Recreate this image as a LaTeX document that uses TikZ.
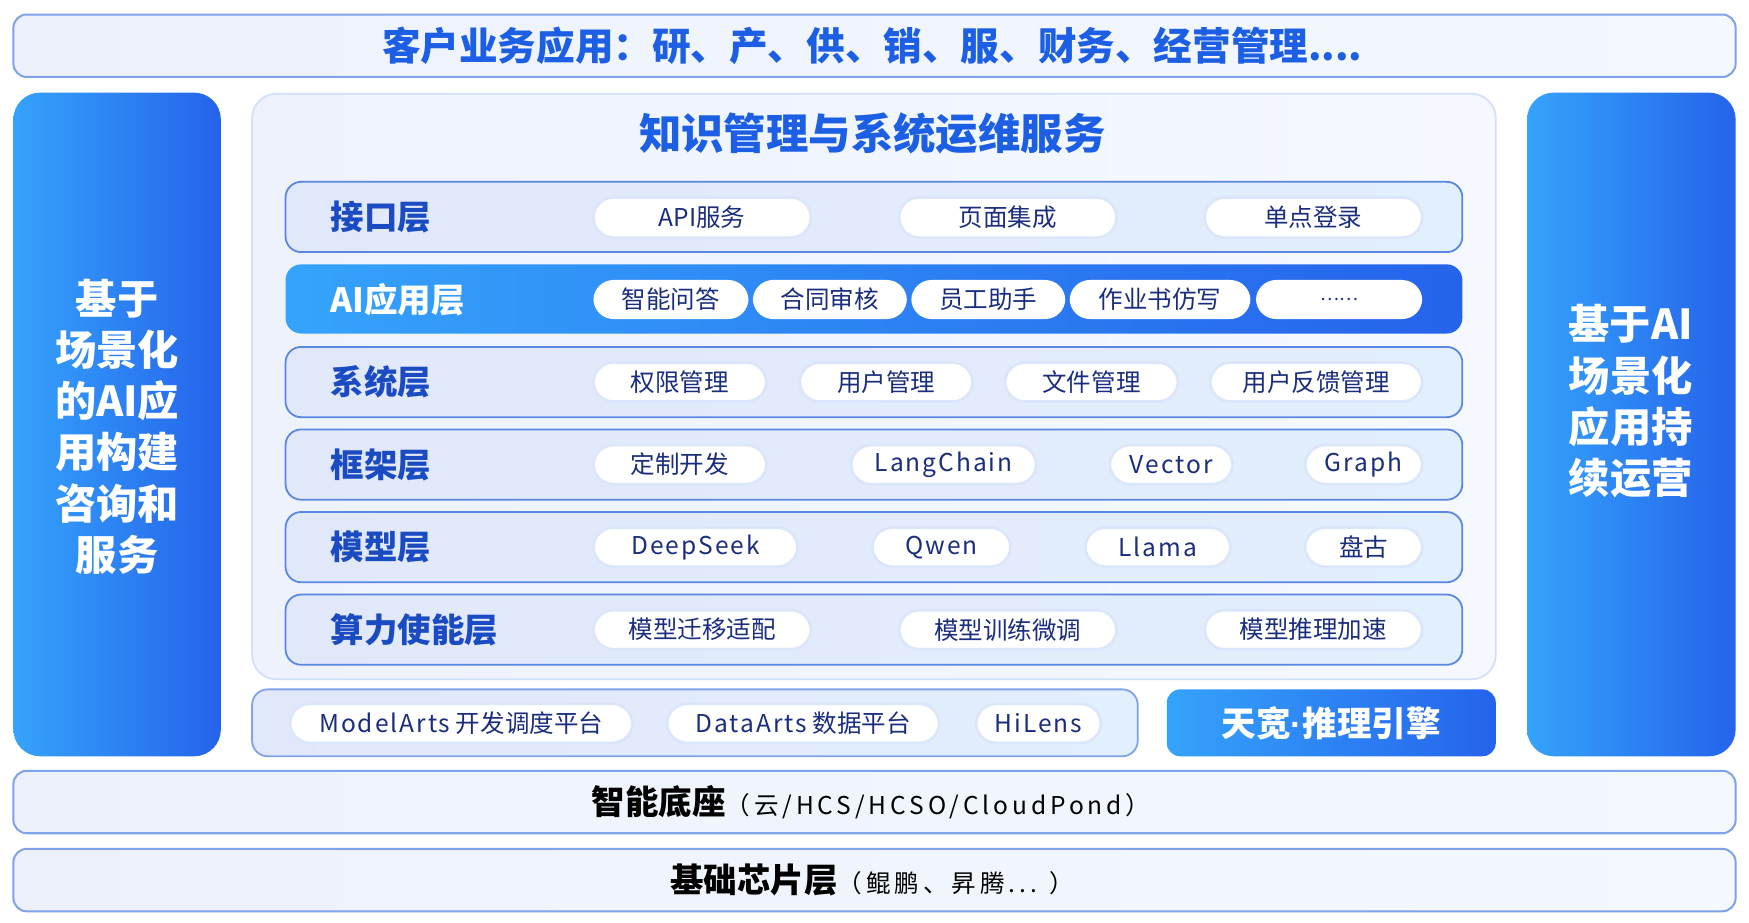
\documentclass[tikz,border=0pt]{standalone}
\usepackage{fontspec}
\setmainfont{Noto Sans CJK SC}
\newfontfamily\lsfont{Noto Sans CJK SC}[LetterSpace=8]
\newfontfamily\wsfont{Noto Sans CJK SC}[LetterSpace=16]
\newfontfamily\latf{Liberation Sans}
\definecolor{tblue}{HTML}{1D5FE4}
\definecolor{lblue}{HTML}{1A4BC2}
\definecolor{navy}{HTML}{1B2E7E}
\definecolor{pl}{HTML}{35A3FB}
\definecolor{pd}{HTML}{2563EB}
\definecolor{barL}{HTML}{EDF1FC}
\definecolor{barR}{HTML}{F4F9FF}
\definecolor{barB}{HTML}{7FA2EA}
\definecolor{rowL}{HTML}{E1E8FA}
\definecolor{rowR}{HTML}{E2EFFD}
\definecolor{rowB}{HTML}{5B86E2}
\definecolor{panF}{HTML}{EDF2FC}
\definecolor{panR}{HTML}{F5F9FF}
\definecolor{panB}{HTML}{D3E0F7}
\definecolor{glow}{HTML}{DCE6FA}
\newcommand\bx[7]{\node[#1,minimum width={(#4-#3)*0.5pt},minimum height={(#6-#5)*0.5pt}] (#2) at ({(#3+#4)/2},{(#5+#6)/2}) {#7};}
\tikzset{
  bar/.style={rounded corners=6pt,left color=barL,right color=barR,draw=barB,line width=0.9pt,inner sep=0pt},
  bluepanel/.style={rounded corners=12pt,left color=pl,right color=pd,inner sep=0pt,text=white,align=center,
    font=\bfseries\fontsize{18.5pt}{23pt}\selectfont},
  panel/.style={rounded corners=11pt,left color=panF,right color=panR,draw=panB,line width=0.8pt,inner sep=0pt},
  layerrow/.style={rounded corners=7pt,left color=rowL,right color=rowR,draw=rowB,line width=0.8pt,inner sep=0pt},
  airow/.style={rounded corners=7pt,left color=pl,right color=pd,inner sep=0pt},
  pill/.style={rounded corners=9pt,fill=white,draw=glow,line width=1.2pt,text=navy,inner sep=0pt,
    font=\fontsize{11pt}{13pt}\selectfont},
  lab/.style={anchor=west,inner sep=0pt,text=lblue,font=\bfseries\fontsize{15pt}{18pt}\selectfont},
  engine/.style={rounded corners=6pt,left color=pl,right color=pd,inner sep=0pt,text=white,
    font=\bfseries\fontsize{15.5pt}{18pt}\selectfont}
}
\begin{document}
\begin{tikzpicture}[x=0.5pt,y=-0.5pt]
\fill[white] (0,0) rectangle (1568,827);
\useasboundingbox (0,0) rectangle (1568,827);
% top bar
\bx{bar}{top}{12}{1556}{13}{69}{}
\node[text=tblue,font=\bfseries\fontsize{17.3pt}{20pt}\selectfont] (toptxt) at (782,41) {客户业务应用：研、产、供、销、服、财务、经营管理....};
% side panels
\bx{bluepanel}{leftp}{12}{198}{83}{678}{}
\node[text=white,align=center,font=\bfseries\fontsize{18.5pt}{23pt}\selectfont] (lefttxt) at (105,382.5) {基于\\场景化\\的AI应\\用构建\\咨询和\\服务};
\bx{bluepanel}{rightp}{1369}{1556}{83}{678}{}
\node[text=white,align=center,font=\bfseries\fontsize{18.5pt}{23pt}\selectfont] (righttxt) at (1462,360) {基于AI\\场景化\\应用持\\续运营};
% middle panel
\bx{panel}{mid}{226}{1341}{84}{609}{}
\node[text=tblue,font=\bfseries\fontsize{19pt}{22pt}\selectfont] (midtitle) at (782,120) {知识管理与系统运维服务};
% rows
\bx{layerrow}{r1}{256}{1311}{163}{226}{}
\bx{airow}{r2}{256}{1311}{237}{299}{}
\bx{layerrow}{r3}{256}{1311}{311}{374}{}
\bx{layerrow}{r4}{256}{1311}{385}{448}{}
\bx{layerrow}{r5}{256}{1311}{459}{522}{}
\bx{layerrow}{r6}{256}{1311}{533}{596}{}
\node[lab] (l1) at (296,194.5) {接口层};
\node[lab,text=white] (l2) at (296,269) {AI应用层};
\node[lab] (l3) at (296,342.5) {系统层};
\node[lab] (l4) at (296,416.5) {框架层};
\node[lab] (l5) at (296,490.5) {模型层};
\node[lab] (l6) at (296,564.5) {算力使能层};
% row 1
\bx{pill}{p11}{532}{727}{177}{213}{API服务}
\bx{pill}{p12}{806}{1001}{177}{213}{页面集成}
\bx{pill}{p13}{1080}{1275}{177}{213}{单点登录}
% row 2
\bx{pill,draw=none}{p21}{532}{671}{251}{286}{智能问答}
\bx{pill,draw=none}{p22}{675}{813}{251}{286}{合同审核}
\bx{pill,draw=none}{p23}{817}{955}{251}{286}{员工助手}
\bx{pill,draw=none}{p24}{959}{1121}{251}{286}{作业书仿写}
\bx{pill,draw=none}{p25}{1126}{1275}{251}{286}{\fontsize{8pt}{10pt}\selectfont ……}
% row 3
\bx{pill}{p31}{532}{687}{325}{360}{权限管理}
\bx{pill}{p32}{717}{872}{325}{360}{用户管理}
\bx{pill}{p33}{901}{1056}{325}{360}{文件管理}
\bx{pill}{p34}{1085}{1275}{325}{360}{用户反馈管理}
% row 4
\bx{pill}{p41}{532}{687}{399}{434}{定制开发}
\bx{pill}{p42}{763}{929}{399}{434}{\lsfont\raisebox{-0.5pt}{LangChain}}
\bx{pill}{p43}{995}{1105}{399}{434}{\lsfont\raisebox{-0.5pt}{Vector}}
\bx{pill}{p44}{1170}{1275}{399}{434}{\lsfont\raisebox{-0.5pt}{Graph}}
% row 5
\bx{pill}{p51}{532}{715}{473}{508}{\lsfont\raisebox{-0.5pt}{DeepSeek}}
\bx{pill}{p52}{782}{906}{473}{508}{\lsfont\raisebox{-0.5pt}{Qwen}}
\bx{pill}{p53}{973}{1103}{473}{508}{\lsfont Llama}
\bx{pill}{p54}{1170}{1275}{473}{508}{盘古}
% row 6
\bx{pill}{p61}{532}{727}{547}{582}{模型迁移适配}
\bx{pill}{p62}{806}{1001}{547}{582}{模型训练微调}
\bx{pill}{p63}{1080}{1275}{547}{582}{模型推理加速}
% tools row
\bx{layerrow,draw=barB}{tools}{226}{1020}{618}{678}{}
\bx{pill}{t1}{260}{567}{631}{666}{{\lsfont ModelArts} 开发调度平台}
\bx{pill}{t2}{598}{842}{631}{666}{{\lsfont DataArts} 数据平台}
\bx{pill}{t3}{875}{987}{631}{666}{\lsfont HiLens}
\bx{engine}{eng}{1046}{1341}{618}{678}{天宽{\latf\bfseries ·}推理引擎}
% bottom bars
\bx{bar}{base}{12}{1556}{691}{747}{}
\node[inner sep=0pt] (basetxt) at (781,719) {{\bfseries\fontsize{15pt}{18pt}\selectfont 智能底座}{\fontsize{11pt}{13pt}\selectfont\wsfont （云/HCS/HCSO/CloudPond）}};
\bx{bar}{chip}{12}{1556}{761}{817}{}
\node[inner sep=0pt] (chiptxt) at (782,789) {{\bfseries\fontsize{15pt}{18pt}\selectfont 基础芯片层}{\fontsize{11pt}{13pt}\selectfont\wsfont （鲲鹏、昇腾... ）}};
\end{tikzpicture}
\end{document}
